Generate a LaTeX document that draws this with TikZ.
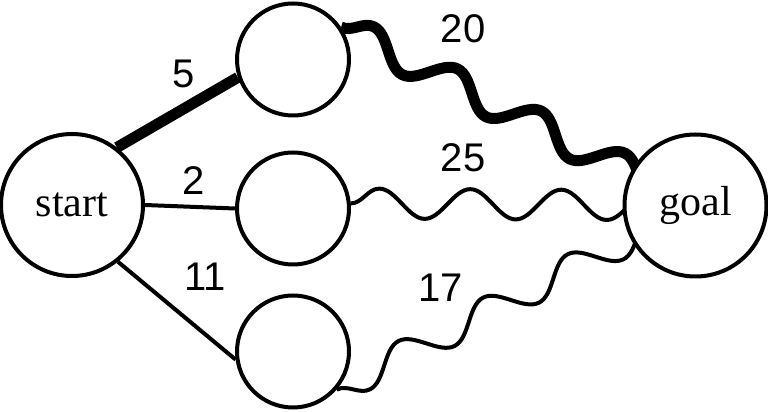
\documentclass[tikz,border=0pt]{standalone}
\usepackage{fontspec}
\setmainfont{Liberation Serif}
\newfontfamily\numfont{Liberation Sans}
\usetikzlibrary{decorations.pathmorphing}
\begin{document}
\begin{tikzpicture}[
    x=1pt, y=1pt,
    bigstate/.style={circle, draw, fill=white, line width=4pt, minimum size=142pt, inner sep=0pt, font=\fontsize{42}{42}\selectfont},
    midstate/.style={circle, draw, line width=4pt, minimum size=112pt, inner sep=0pt},
    cost/.style={font=\numfont\fontsize{40}{40}\selectfont},
    thin edge/.style={line width=4pt},
    best edge/.style={line width=11pt},
    wave/.style={decorate, decoration={snake, segment length=#1, amplitude=15pt}}
]
    \useasboundingbox (0,0) rectangle (768,412);

    % Stati
    \node[bigstate] (start) at (72,207) {start};
    \node[midstate] (up) at (293,352.5) {};
    \node[midstate] (mid) at (293,203.5) {};
    \node[midstate] (low) at (293,60.5) {};
    \coordinate (goalc) at (695.5,206.5);

    % Archi dallo start
    \draw[best edge] (start.52) -- (up.198);
    \draw[thin edge] (start.east) -- (mid.west);
    \draw[thin edge] (start.-51) -- (low.188);

    % Archi verso il goal (la coda dritta resta sotto il cerchio)
    \draw[best edge, wave=93.7pt] (up.34) -- (goalc);
    \draw[thin edge, wave=91pt] (mid.5) -- (goalc);
    \draw[thin edge, wave=95pt, decoration={mirror}] (low.-41) -- (goalc);

    \node[bigstate] (goal) at (goalc) {goal};

    % Costi
    \node[cost] (c5) at (184,338) {5};
    \node[cost] (c2) at (194,231) {2};
    \node[cost] (c11) at (205,135) {11};
    \node[cost] (c20) at (463,383) {20};
    \node[cost] (c25) at (463,254) {25};
    \node[cost] (c17) at (441,124) {17};
\end{tikzpicture}
\end{document}
